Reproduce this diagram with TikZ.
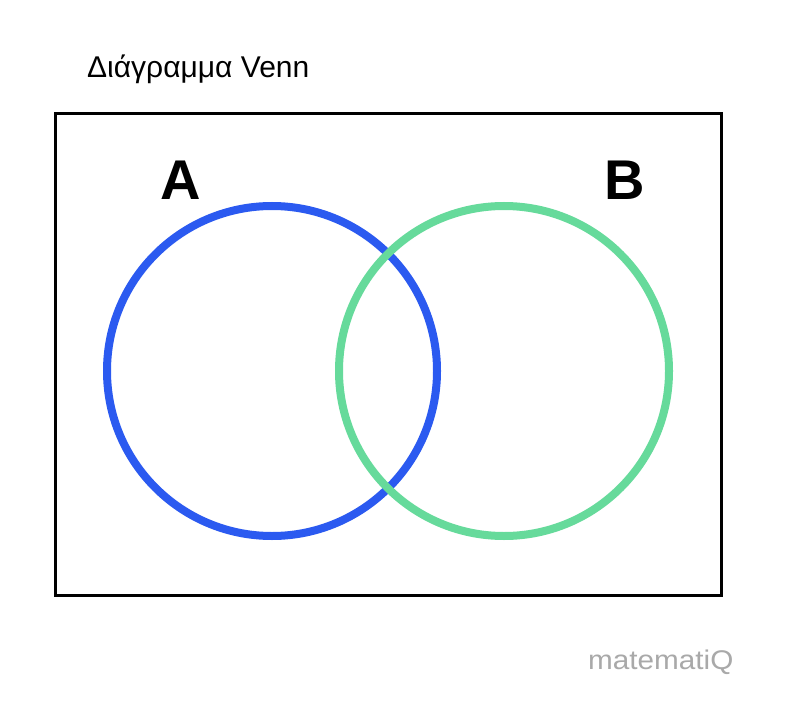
\documentclass[tikz,border=0pt]{standalone}
\usepackage{fontspec}
\setmainfont{Liberation Sans}
\definecolor{setblue}{HTML}{2B5AF0}
\definecolor{setgreen}{HTML}{66DA9B}
\definecolor{markgray}{HTML}{A9A9A9}
\begin{document}
\begin{tikzpicture}[x=1pt,y=-1pt,
  setring/.style={line width=8pt},
  setlabel/.style={font=\fontsize{56}{60}\selectfont\bfseries, inner sep=0pt}]
\useasboundingbox (0,0) rectangle (800,714);
\fill[white] (0,0) rectangle (800,714);
\node[anchor=base west, inner sep=0pt, font=\fontsize{30}{33}\selectfont] (title) at (87,78) {Διάγραμμα Venn};
\draw[line width=3pt] (55.5,113.5) rectangle (721.5,595.5);
\node[setlabel] (A) at (181,180) {A};
\node[setlabel] (B) at (625,180) {B};
\draw[setring, setblue] (272,371) circle[radius=165];
\draw[setring, setgreen] (504,371) circle[radius=165];
\node[anchor=base west, inner sep=0pt, text=markgray, font=\fontsize{27}{30}\selectfont] (mark) at (588,669) {\scalebox{1.1}[1]{matematiQ}};
\end{tikzpicture}
\end{document}
